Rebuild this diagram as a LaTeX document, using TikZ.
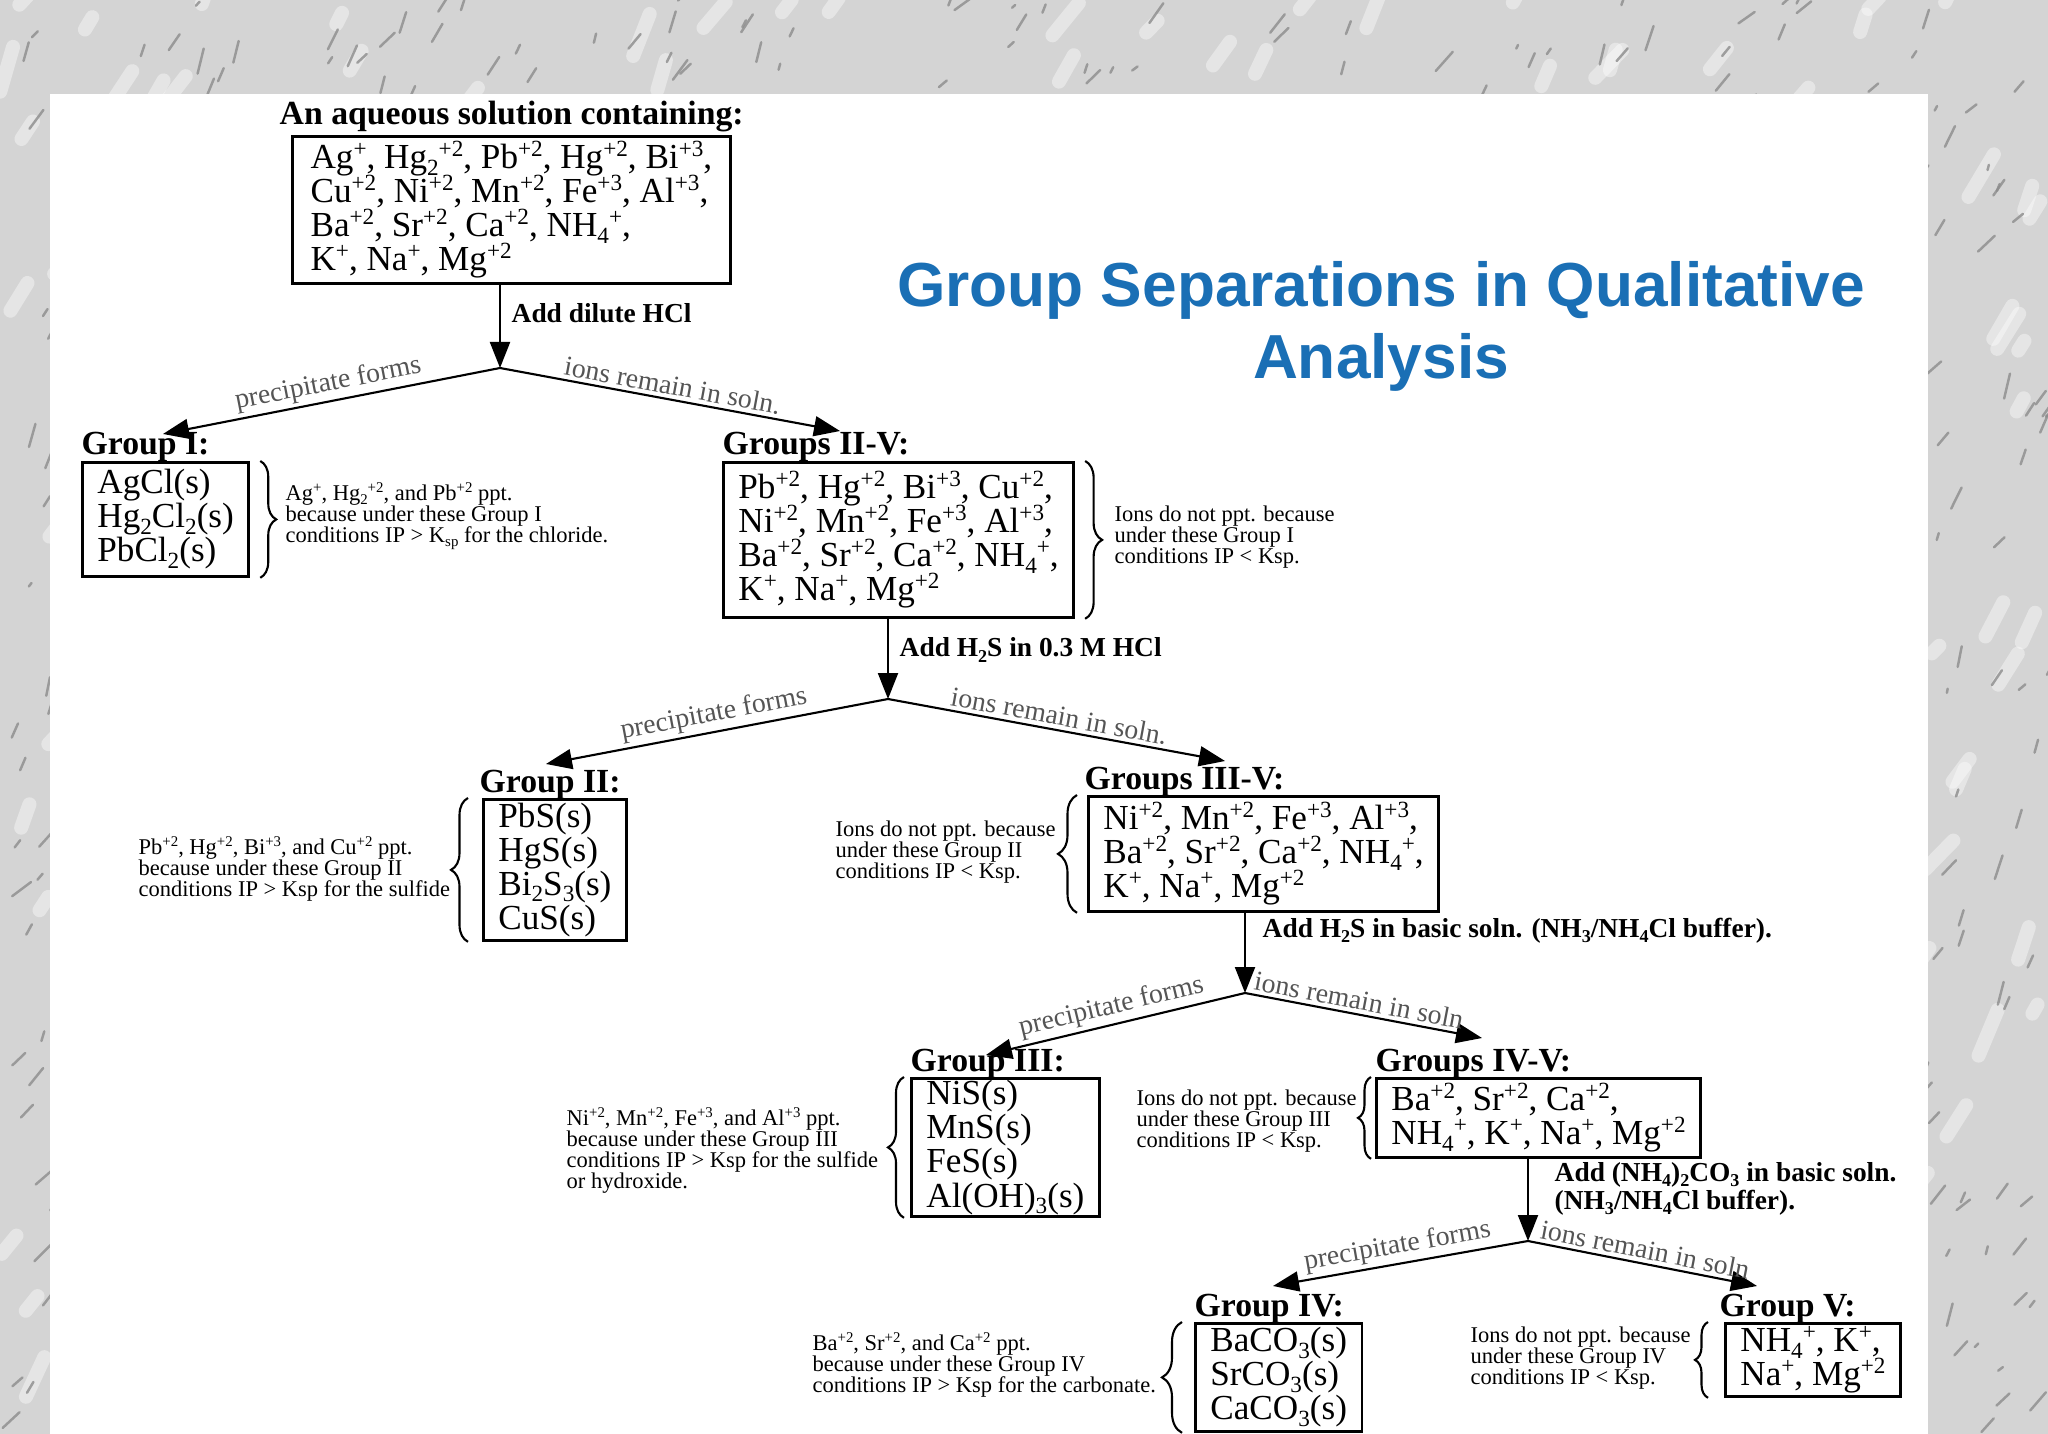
\documentclass[tikz,border=0pt]{standalone}
\usepackage{fontspec}
\setmainfont{Liberation Serif}
\newfontfamily\titlefont{Liberation Sans}
\usepackage{tikz}
\usetikzlibrary{arrows.meta,positioning,decorations.pathreplacing}
\definecolor{titleblue}{RGB}{26,111,181}
\definecolor{marble}{RGB}{212,212,212}
\definecolor{veinclr}{RGB}{140,140,140}
\definecolor{wayclr}{RGB}{85,85,85}
\newcommand{\chup}[1]{\raisebox{0.75ex}{\scalebox{0.66}{#1}}}
\newcommand{\chdn}[1]{\raisebox{-0.4ex}{\scalebox{0.66}{#1}}}
\newcommand{\tightlines}{\lineskiplimit=-20pt\relax}

\begin{document}
\begin{tikzpicture}[x=0.1mm, y=-0.1mm,
    box/.style={draw, line width=0.8pt, anchor=north west, align=left,
                inner xsep=1.5mm, inner ysep=0pt,
                font=\fontsize{10}{9.7}\selectfont\tightlines},
    grp/.style={anchor=base west, font=\bfseries\fontsize{9.6}{10}\selectfont,
                inner sep=0pt},
    note/.style={anchor=west, align=left, inner sep=0pt,
                 font=\fontsize{6.4}{6}\selectfont\tightlines},
    addlbl/.style={anchor=west, align=left, inner sep=0pt,
                   font=\bfseries\fontsize{7.8}{8}\selectfont\tightlines},
    way/.style={sloped, above, inner sep=1pt, text=wayclr,
                font=\fontsize{7.9}{8}\selectfont},
    arr/.style={-{Triangle[length=2.6mm, width=2mm]}, line width=0.6pt},
    brc/.style={decorate, decoration={brace, amplitude=#1}, line width=0.6pt},
    vein/.style={line width=#1, line cap=round}
  ]
  \useasboundingbox (0,0) rectangle (2048,1434);

  % marble backdrop and white sheet
  \begin{scope}
    \clip (0,0) rectangle (2048,1434);
    \fill[marble] (0,0) rectangle (2048,1434);
    \pgfmathsetseed{11}
    \foreach \k in {1,...,300}{
      \pgfmathsetmacro{\vx}{rnd*2048}
      \pgfmathsetmacro{\vy}{rnd*1434}
      \pgfmathsetmacro{\vl}{10+rnd*40}
      \pgfmathsetmacro{\va}{45+rnd*30}
      \draw[vein=4pt, white, opacity=0.4] (\vx,\vy) -- ++(-\va:\vl);
    }
    \foreach \k in {1,...,1100}{
      \pgfmathsetmacro{\vx}{rnd*2048}
      \pgfmathsetmacro{\vy}{rnd*1434}
      \pgfmathsetmacro{\vl}{4+rnd*22}
      \pgfmathsetmacro{\va}{35+rnd*45}
      \draw[vein=0.7pt, veinclr, opacity=0.8] (\vx,\vy) -- ++(-\va:\vl);
    }
    \fill[white] (50,94) rectangle (1928,1434);
  \end{scope}

  \node[font=\titlefont\bfseries\fontsize{17.7}{20.5}\selectfont,
        text=titleblue, align=center] (title) at (1381,326)
    {Group Separations in Qualitative\\Analysis};

  % starting mixture
  \node[box, minimum width=43.8mm, minimum height=14.7mm] (mix) at (291,135)
    {Ag\chup{+}, Hg\chdn{2}\chup{+2}, Pb\chup{+2}, Hg\chup{+2}, Bi\chup{+3},\\
     Cu\chup{+2}, Ni\chup{+2}, Mn\chup{+2}, Fe\chup{+3}, Al\chup{+3},\\
     Ba\chup{+2}, Sr\chup{+2}, Ca\chup{+2}, NH\chdn{4}\chup{+},\\
     K\chup{+}, Na\chup{+}, Mg\chup{+2}};
  \node[grp] (mixlbl) at ([xshift=-1.2mm, yshift=1mm]mix.north west)
    {An aqueous solution containing:};

  \coordinate (hcl) at (500,368);
  \coordinate (g1tip) at (163,434);
  \coordinate (g25tip) at (840,431);
  \draw[arr] (mix.south -| hcl) -- (hcl);
  \node[addlbl] (addhcl) at (511,313) {Add dilute HCl};
  \draw[arr] (hcl) -- node[way] {precipitate forms} (g1tip);
  \draw[arr] (hcl) -- node[way] {ions remain in soln.} (g25tip);

  % group I
  \node[box, minimum width=16.1mm, minimum height=11.4mm] (g1) at (81,461)
    {AgCl(s)\\Hg\chdn{2}Cl\chdn{2}(s)\\PbCl\chdn{2}(s)};
  \node[grp] (g1lbl) at ([yshift=0.6mm]g1.north west) {Group I:};
  \draw[brc=1.6mm] ([xshift=1mm]g1.north east) -- ([xshift=1mm]g1.south east);
  \node[note] (g1why) at (285,516)
    {Ag\chup{+}, Hg\chdn{2}\chup{+2}, and Pb\chup{+2} ppt.\\
     because under these Group I\\
     conditions IP > K\chdn{sp} for the chloride.};

  % groups II-V
  \node[box, minimum width=34.2mm, minimum height=15.5mm] (g25) at (722,461)
    {Pb\chup{+2}, Hg\chup{+2}, Bi\chup{+3}, Cu\chup{+2},\\
     Ni\chup{+2}, Mn\chup{+2}, Fe\chup{+3}, Al\chup{+3},\\
     Ba\chup{+2}, Sr\chup{+2}, Ca\chup{+2}, NH\chdn{4}\chup{+},\\
     K\chup{+}, Na\chup{+}, Mg\chup{+2}};
  \node[grp] (g25lbl) at ([yshift=0.6mm]g25.north west) {Groups II-V:};
  \draw[brc=1.7mm] ([xshift=1mm]g25.north east) -- ([xshift=1mm]g25.south east);
  \node[note] (g25why) at (1114,537)
    {Ions do not ppt. because\\under these Group I\\conditions IP < Ksp.};

  \coordinate (hs) at (888,699);
  \coordinate (g2tip) at (546,764);
  \coordinate (g35tip) at (1225,761);
  \draw[arr] (g25.south -| hs) -- (hs);
  \node[addlbl] (addhs) at (899,650) {Add H\chdn{2}S in 0.3 M HCl};
  \draw[arr] (hs) -- node[way] {precipitate forms} (g2tip);
  \draw[arr] (hs) -- node[way] {ions remain in soln.} (g35tip);

  % group II
  \node[box, minimum width=13.8mm, minimum height=14.1mm] (g2) at (482,798)
    {PbS(s)\\HgS(s)\\Bi\chdn{2}S\chdn{3}(s)\\CuS(s)};
  \node[grp] (g2lbl) at ([xshift=-0.3mm, yshift=0.6mm]g2.north west) {Group II:};
  \draw[brc=1.7mm] ([xshift=-1.4mm]g2.south west) -- ([xshift=-1.4mm]g2.north west);
  \node[note] (g2why) at (138,869)
    {Pb\chup{+2}, Hg\chup{+2}, Bi\chup{+3}, and Cu\chup{+2} ppt.\\
     because under these Group II\\
     conditions IP > Ksp for the sulfide};

  % groups III-V
  \node[box, minimum width=34.4mm, minimum height=11.5mm] (g35) at (1087,795)
    {Ni\chup{+2}, Mn\chup{+2}, Fe\chup{+3}, Al\chup{+3},\\
     Ba\chup{+2}, Sr\chup{+2}, Ca\chup{+2}, NH\chdn{4}\chup{+},\\
     K\chup{+}, Na\chup{+}, Mg\chup{+2}};
  \node[grp] (g35lbl) at ([xshift=-0.3mm, yshift=0.6mm]g35.north west) {Groups III-V:};
  \draw[brc=1.9mm] ([xshift=-1mm]g35.south west) -- ([xshift=-1mm]g35.north west);
  \node[note] (g35why) at (835,852)
    {Ions do not ppt. because\\under these Group II\\conditions IP < Ksp.};

  \coordinate (basic) at (1245,993);
  \coordinate (g3tip) at (986,1055);
  \coordinate (g45tip) at (1482,1038);
  \draw[arr] (g35.south -| basic) -- (basic);
  \node[addlbl] (addbasic) at (1262,931)
    {Add H\chdn{2}S in basic soln. (NH\chdn{3}/NH\chdn{4}Cl buffer).};
  \draw[arr] (basic) -- node[way] {precipitate forms} (g3tip);
  \draw[arr] (basic) -- node[way, pos=0.47] {ions remain in soln} (g45tip);

  % group III
  \node[box, minimum width=17.1mm, minimum height=13.8mm] (g3) at (910,1077)
    {NiS(s)\\MnS(s)\\FeS(s)\\Al(OH)\chdn{3}(s)};
  \node[grp] (g3lbl) at ([yshift=0.6mm]g3.north west) {Group III:};
  \draw[brc=1.6mm] ([xshift=-0.6mm]g3.south west) -- ([xshift=-0.6mm]g3.north west);
  \node[note] (g3why) at (566,1151)
    {Ni\chup{+2}, Mn\chup{+2}, Fe\chup{+3}, and Al\chup{+3} ppt.\\
     because under these Group III\\
     conditions IP > Ksp for the sulfide\\
     or hydroxide.};

  % groups IV-V
  \node[box, minimum width=31.6mm, minimum height=7.9mm] (g45) at (1375,1077)
    {Ba\chup{+2}, Sr\chup{+2}, Ca\chup{+2},\\
     NH\chdn{4}\chup{+}, K\chup{+}, Na\chup{+}, Mg\chup{+2}};
  \node[grp] (g45lbl) at ([yshift=0.6mm]g45.north west) {Groups IV-V:};
  \draw[brc=1.3mm] ([xshift=-0.4mm]g45.south west) -- ([xshift=-0.4mm]g45.north west);
  \node[note] (g45why) at (1136,1121)
    {Ions do not ppt. because\\under these Group III\\conditions IP < Ksp.};

  \coordinate (carb) at (1528,1241);
  \coordinate (g4tip) at (1273,1286);
  \coordinate (g5tip) at (1757,1286);
  \draw[arr] (g45.south -| carb) -- (carb);
  \node[addlbl] (addcarb) at (1554,1189)
    {Add (NH\chdn{4})\chdn{2}CO\chdn{3} in basic soln.\\
     (NH\chdn{3}/NH\chdn{4}Cl buffer).};
  \draw[arr] (carb) -- node[way] {precipitate forms} (g4tip);
  \draw[arr] (carb) -- node[way] {ions remain in soln} (g5tip);

  % group IV
  \node[box, minimum width=15.8mm, minimum height=10.8mm] (g4) at (1194,1322)
    {BaCO\chdn{3}(s)\\SrCO\chdn{3}(s)\\CaCO\chdn{3}(s)};
  \node[grp] (g4lbl) at ([yshift=0.6mm]g4.north west) {Group IV:};
  \draw[brc=2mm] ([xshift=-1.2mm]g4.south west) -- ([xshift=-1.2mm]g4.north west);
  \node[note] (g4why) at (812,1365)
    {Ba\chup{+2}, Sr\chup{+2}, and Ca\chup{+2} ppt.\\
     because under these Group IV\\
     conditions IP > Ksp for the carbonate.};

  % group V
  \node[box, minimum width=17.2mm, minimum height=7.3mm] (g5) at (1724,1322)
    {NH\chdn{4}\chup{+}, K\chup{+},\\Na\chup{+}, Mg\chup{+2}};
  \node[grp] (g5lbl) at ([xshift=-0.5mm, yshift=0.6mm]g5.north west) {Group V:};
  \draw[brc=1.3mm] ([xshift=-1.6mm]g5.south west) -- ([xshift=-1.6mm]g5.north west);
  \node[note] (g5why) at (1470,1358)
    {Ions do not ppt. because\\under these Group IV\\conditions IP < Ksp.};
\end{tikzpicture}
\end{document}
